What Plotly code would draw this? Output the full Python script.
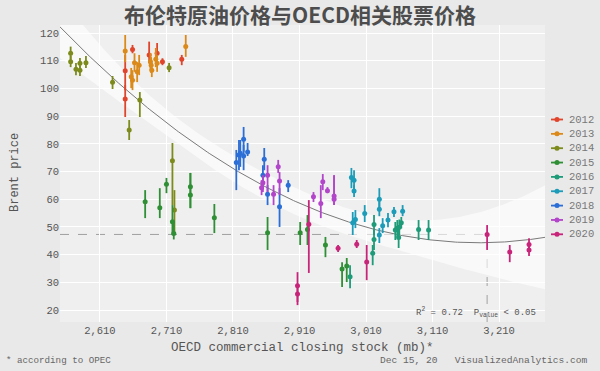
import numpy as np
import plotly.graph_objects as go

# ---------------- data ----------------
years = ["2012", "2013", "2014", "2015", "2016", "2017", "2018", "2019", "2020"]
colors = ["#E0452C", "#DB8A1A", "#7D8B1D", "#2F8F35", "#1E9B78",
          "#1C9CB8", "#2B6ED6", "#B245C9", "#C8247A"]

# stock (mb), price ($), bar low, bar high
s2012 = [2648, 2659, 2684, 2704, 2733, 2648, 2696]
p2012 = [106.4, 114.1, 112.1, 109.6, 110.5, 96.2, 112.7]
lo2012 = [99.4, 112.7, 109.1, 108.4, 108.4, 89.7, 110.3]
hi2012 = [112.1, 115.7, 116.9, 110.9, 112.1, 101.2, 116.4]

s2013 = [2648, 2662, 2657, 2659, 2666, 2669, 2686, 2687, 2688, 2694, 2696, 2739]
p2013 = [113.5, 109.3, 104.2, 103.0, 106.0, 108.4, 109.6, 108.4, 106.6, 110.5, 109.1, 115.1]
lo2013 = [109.5, 106.0, 100.1, 99.4, 102.3, 104.8, 106.6, 105.6, 104.1, 107.7, 106.0, 111.4]
hi2013 = [119.3, 112.7, 107.4, 106.6, 109.5, 112.1, 112.8, 111.3, 109.2, 114.6, 112.1, 119.3]

s2014 = [2566, 2566, 2574, 2580, 2580, 2589, 2629, 2670, 2654, 2714, 2719, 2722]
p2014 = [112.7, 109.6, 106.9, 109.1, 106.6, 109.3, 102.2, 95.8, 85.0, 107.5, 73.9, 56.1]
lo2014 = [110.3, 107.7, 104.8, 107.4, 104.5, 107.4, 99.8, 89.7, 81.4, 105.9, 57.9, 47.1]
hi2014 = [115.1, 111.7, 109.2, 111.0, 108.4, 111.7, 104.5, 98.7, 88.6, 109.2, 80.3, 63.3]

s2015 = [2678, 2700, 2710, 2746, 2746, 2719, 2721, 2782, 2862, 2911, 2922, 2949, 2974, 2981]
p2015 = [59.1, 56.9, 65.4, 64.5, 61.5, 51.9, 47.6, 53.3, 47.9, 47.9, 49.1, 43.5, 34.8, 35.9]
lo2015 = [53.2, 53.2, 62.2, 56.8, 56.8, 47.1, 45.5, 47.8, 41.7, 43.5, 43.5, 39.1, 28.3, 30.1]
hi2015 = [63.3, 64.0, 67.7, 69.5, 69.5, 57.9, 51.8, 58.3, 53.6, 51.8, 54.3, 46.4, 37.3, 38.8]

s2016 = [2986, 3020, 3022, 3022, 3054, 3057, 3060, 3059, 3063, 3089, 3104]
p2016 = [32.0, 40.5, 45.5, 50.9, 48.9, 49.5, 49.9, 46.2, 51.5, 49.1, 48.9]
lo2016 = [27.9, 36.2, 41.7, 47.1, 45.3, 46.4, 47.1, 42.4, 49.5, 45.3, 45.3]
hi2016 = [36.2, 43.5, 48.9, 54.3, 51.8, 52.5, 52.7, 49.5, 53.6, 52.5, 52.5]

s2017 = [2988, 2992, 2992, 3008, 2990, 2994, 3030, 3030, 3035, 3043, 3052, 3065, 3030]
p2017 = [67.9, 66.9, 63.0, 54.9, 51.5, 52.7, 60.0, 56.4, 50.4, 52.5, 55.5, 55.7, 47.1]
lo2017 = [64.0, 63.3, 60.8, 51.8, 47.1, 49.6, 55.7, 53.9, 47.8, 49.9, 53.6, 53.9, 44.2]
hi2017 = [71.3, 70.5, 65.1, 57.9, 55.4, 56.1, 64.0, 59.7, 53.2, 55.0, 57.2, 57.9, 49.6]

s2018 = [2815, 2819, 2821, 2826, 2826, 2832, 2857, 2855, 2862, 2880, 2893]
p2018 = [73.3, 76.0, 76.6, 81.7, 75.6, 77.1, 74.4, 68.7, 61.8, 57.3, 65.1]
lo2018 = [63.3, 70.5, 71.7, 77.0, 70.5, 75.6, 70.5, 65.1, 57.9, 50.0, 62.6]
hi2018 = [77.8, 81.4, 81.4, 86.1, 79.6, 80.3, 78.5, 72.3, 65.1, 64.0, 66.9]

s2019 = [2855, 2853, 2862, 2871, 2878, 2880, 2931, 2942, 2945, 2952, 2962, 2962]
p2019 = [66.0, 64.2, 68.7, 61.8, 71.7, 66.6, 60.9, 58.5, 66.3, 63.1, 61.2, 60.0]
lo2019 = [62.6, 61.5, 62.6, 57.9, 69.5, 61.5, 59.0, 53.2, 63.3, 62.2, 57.9, 57.9]
hi2019 = [68.7, 66.9, 72.3, 65.1, 74.2, 69.8, 62.6, 65.1, 69.1, 64.4, 68.7, 68.7]

s2020 = [2907, 2907, 2924, 2968, 2996, 3011, 3192, 3226, 3255, 3255]
p2020 = [28.8, 25.8, 51.0, 42.3, 43.8, 37.4, 47.3, 41.0, 43.7, 41.7]
lo2020 = [21.8, 22.9, 33.4, 41.0, 42.4, 30.8, 41.7, 37.3, 41.7, 39.5]
hi2020 = [33.7, 29.0, 59.7, 43.5, 45.3, 43.5, 50.7, 43.5, 45.9, 43.5]

stocks = [s2012, s2013, s2014, s2015, s2016, s2017, s2018, s2019, s2020]
prices = [p2012, p2013, p2014, p2015, p2016, p2017, p2018, p2019, p2020]
lows = [lo2012, lo2013, lo2014, lo2015, lo2016, lo2017, lo2018, lo2019, lo2020]
highs = [hi2012, hi2013, hi2014, hi2015, hi2016, hi2017, hi2018, hi2019, hi2020]

x_ticks = [2610, 2710, 2810, 2910, 3010, 3110, 3210]
y_ticks = [20, 30, 40, 50, 60, 70, 80, 90, 100, 110, 120]
latest_index = 6  # point marked by the dashed guide lines (2020)

X_RANGE = [2550, 3279]
Y_RANGE = [15.7, 122.9]
BAND_Z = 2.5

# ---------------- quadratic fit + confidence band ----------------
all_x = np.concatenate([np.array(s, float) for s in stocks])
all_y = np.concatenate([np.array(p, float) for p in prices])
xc = all_x.mean()
X = np.column_stack([np.ones_like(all_x), all_x - xc, (all_x - xc) ** 2])
beta, *_ = np.linalg.lstsq(X, all_y, rcond=None)
resid = all_y - X @ beta
n, k = X.shape
s2 = resid @ resid / (n - k)
cov = s2 * np.linalg.inv(X.T @ X)
gx = np.linspace(X_RANGE[0], X_RANGE[1], 300)
G = np.column_stack([np.ones_like(gx), gx - xc, (gx - xc) ** 2])
gy = G @ beta
se = np.sqrt(np.einsum("ij,jk,ik->i", G, cov, G))
upper = gy + BAND_Z * se
lower = gy - BAND_Z * se

fig = go.Figure()
fig.add_trace(go.Scatter(x=gx, y=upper, mode="lines", line=dict(width=0),
                         showlegend=False, hoverinfo="skip"))
fig.add_trace(go.Scatter(x=gx, y=lower, mode="lines", line=dict(width=0),
                         fill="tonexty", fillcolor="rgba(255,255,255,0.6)",
                         showlegend=False, hoverinfo="skip"))
fig.add_trace(go.Scatter(x=gx, y=gy, mode="lines", line=dict(color="#7a7a7a", width=1),
                         showlegend=False, hoverinfo="skip"))

for yr, c, s, p, lo, hi in zip(years, colors, stocks, prices, lows, highs):
    p_arr = np.array(p)
    fig.add_trace(go.Scatter(
        x=s, y=p, mode="markers", name=yr, showlegend=False,
        marker=dict(color=c, size=5),
        error_y=dict(type="data", symmetric=False,
                     array=list(np.array(hi) - p_arr),
                     arrayminus=list(p_arr - np.array(lo)),
                     color=c, thickness=1.8, width=0)))

lx = s2020[latest_index]
ly = p2020[latest_index]
fig.add_shape(type="line", xref="x", yref="y", x0=X_RANGE[0], x1=lx, y0=ly, y1=ly,
              line=dict(color="#a0a0a0", width=1, dash="dash"), layer="below")
fig.add_shape(type="line", xref="x", yref="y", x0=lx, x1=lx, y0=Y_RANGE[0], y1=ly,
              line=dict(color="#a0a0a0", width=1, dash="dash"), layer="below")

mono = "Liberation Mono"
W, H = 600, 371
L, R, T, B = 60, 55, 25, 49
pw, ph = W - L - R, H - T - B

def px2x(px):
    return (px - L) / pw

def py2y(py):
    return (H - B - py) / ph

fig.update_layout(
    width=W, height=H,
    margin=dict(l=L, r=R, t=T, b=B),
    paper_bgcolor="#e9e9e9", plot_bgcolor="#efefef",
    title=dict(text="<b>布伦特原油价格与OECD相关股票价格</b>", x=0.5, xanchor="center",
               y=1 - 16 / H, yanchor="middle", yref="container",
               font=dict(family="Noto Sans CJK SC", size=21, color="#4d4d4d")),
    xaxis=dict(range=X_RANGE, tickvals=x_ticks, tickformat=",", showline=False,
               zeroline=False, gridcolor="#ffffff", gridwidth=1, ticks="",
               tickfont=dict(family=mono, size=10.5, color="#555555")),
    yaxis=dict(range=Y_RANGE, tickvals=y_ticks, tickprefix="$", showline=False,
               zeroline=False, gridcolor="#ffffff", gridwidth=1, ticks="",
               tickfont=dict(family=mono, size=10.5, color="#555555")),
    showlegend=False,
)

# legend drawn by hand (compact 14px rows, vertically centred)
leg_y0, leg_dy = 119.5, 14.35
for i, (yr, c) in enumerate(zip(years, colors)):
    yy = py2y(leg_y0 + i * leg_dy)
    fig.add_shape(type="line", xref="paper", yref="paper",
                  x0=px2x(551), x1=px2x(563), y0=yy, y1=yy,
                  line=dict(color=c, width=1.8))
    fig.add_shape(type="circle", xref="paper", yref="paper",
                  xsizemode="pixel", ysizemode="pixel",
                  xanchor=px2x(557), yanchor=yy, x0=-2.5, x1=2.5, y0=-2.5, y1=2.5,
                  fillcolor=c, line=dict(width=0))
    fig.add_annotation(text=yr, xref="paper", yref="paper", x=px2x(567), y=yy,
                       xanchor="left", yanchor="middle", showarrow=False,
                       font=dict(family=mono, size=10.5, color="#777777"))

def ann(text, px, py, xanchor="center", size=11, color="#555555", angle=0):
    fig.add_annotation(text=text, xref="paper", yref="paper",
                       x=px2x(px), y=py2y(py),
                       xanchor=xanchor, yanchor="middle", showarrow=False,
                       textangle=angle,
                       font=dict(family=mono, size=size, color=color))

ann("OECD commercial closing stock (mb)*", 302, 348, size=12.5)
ann("Brent price", 15, 173, size=12, angle=-90)
ann("* according to OPEC", 4, 360, xanchor="left", size=9.2, color="#666666")
ann("Dec 15, 20   VisualizedAnalytics.com", 590, 360, xanchor="right", size=9.6, color="#666666")
ann("R<sup>2</sup> = 0.72  P<sub>value</sub> < 0.05", 414, 312, xanchor="left", size=9, color="#555555")

fig.write_html("out.html",
               config={"displayModeBar": False},
               post_script="document.body.style.margin='0';"
                           "document.body.style.background='#e9e9e9';")
